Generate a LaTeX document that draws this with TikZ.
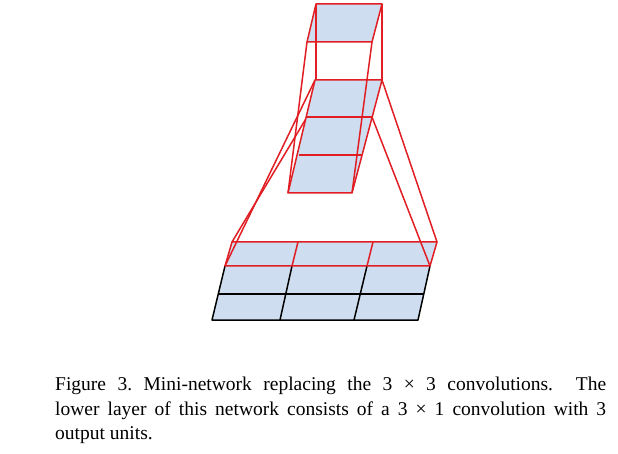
\documentclass[tikz,border=0pt]{standalone}
\usepackage{fontspec}
\setmainfont{Liberation Serif}
\definecolor{cellblue}{RGB}{206,222,240}
\definecolor{netred}{RGB}{225,30,35}
\begin{document}
\begin{tikzpicture}[x=1pt,y=-1pt,
  redl/.style={draw=netred,line width=1.5pt,line join=round},
  blkl/.style={draw=black,line width=1.5pt,line join=round},
  cell/.style={fill=cellblue}]
\useasboundingbox (0,0) rectangle (618,454);
% bottom layer (black)
\fill[cell] (225,266) -- (430,266) -- (418,320) -- (212,320) -- cycle;
\draw[blkl] (225,266) -- (212,320) -- (418,320) -- (430,266);
\draw[blkl] (219,294) -- (424,294);
\draw[blkl] (292,266) -- (280,320);
\draw[blkl] (367,266) -- (354,320);
% bottom red top face
\fill[cell] (232,242) -- (437,242) -- (430,266) -- (225,266) -- cycle;
\draw[redl] (232,242) -- (437,242) -- (430,266) -- (225,266) -- cycle;
\draw[redl] (298,242) -- (292,266);
\draw[redl] (373,242) -- (367,266);
% pyramid edges
\coordinate (mb1) at (315,80);
\coordinate (mb2) at (382,80);
\coordinate (mf1) at (307,117);
\coordinate (mf2) at (372,117);
\draw[redl] (mb1) -- (225,266);
\draw[redl] (mf1) -- (232,242);
\draw[redl] (mb2) -- (437,242);
\draw[redl] (mf2) -- (430,266);
% middle column
\fill[cell] (315,80) -- (382,80) -- (352,193) -- (288,193) -- cycle;
\draw[redl] (315,80) -- (382,80) -- (352,193) -- (288,193) -- cycle;
\draw[redl] (307,117) -- (372,117);
\draw[redl] (299,155) -- (362,155);
% top unit
\fill[cell] (316,4) -- (382,4) -- (372,42) -- (307,42) -- cycle;
\draw[redl] (316,4) -- (382,4) -- (372,42) -- (307,42) -- cycle;
\draw[redl] (316,4) -- (316,80);
\draw[redl] (382,4) -- (382,80);
\draw[redl] (307,42) -- (288,193);
\draw[redl] (372,42) -- (352,193);
% caption
\node[anchor=north west,inner sep=0pt,text width=551pt,align=justify,font=\fontsize{19.5}{24.5}\selectfont] (cap) at (55,377)
{Figure 3.\ Mini-network replacing the 3~×~3 convolutions.\ \ The\linebreak lower layer of this network consists of a 3~×~1 convolution with 3\linebreak output units.};
\end{tikzpicture}
\end{document}
